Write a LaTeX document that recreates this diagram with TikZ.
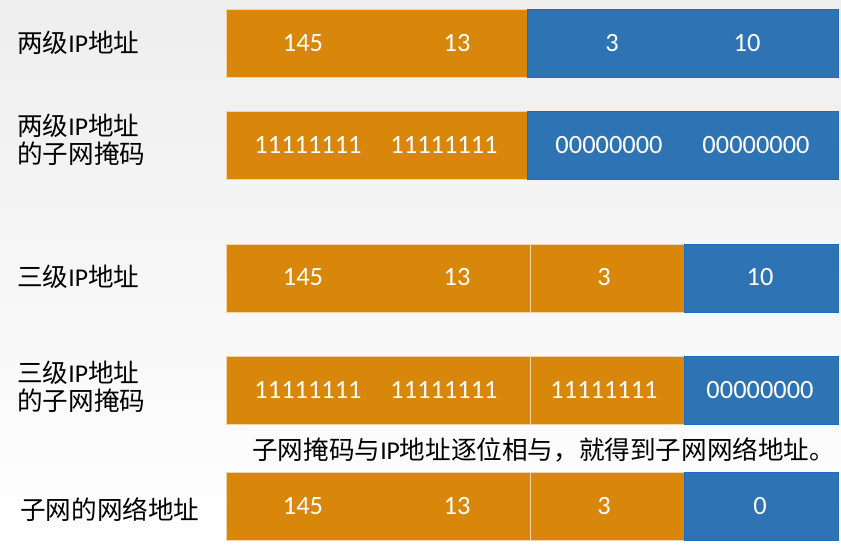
\documentclass[tikz,border=0pt]{standalone}
\usepackage{fontspec}
\setmainfont{Carlito}
\newfontfamily\cjk{Noto Sans CJK SC}
\definecolor{bytebg}{HTML}{D8870A}
\definecolor{hostbg}{HTML}{2E74B5}
\definecolor{hostline}{HTML}{1A6CC4}
\definecolor{pagetop}{HTML}{EEEEEE}
\tikzset{
  cell/.style={anchor=north west,minimum height=51pt,inner sep=0pt,line width=0.6pt},
  netbox/.style={cell,fill=bytebg,draw=bytebg!35!white},
  hostbox/.style={cell,fill=hostbg,draw=hostline},
  num/.style={text=white,font=\fontsize{19.8}{22}\selectfont,inner sep=0pt},
  lab/.style={anchor=west,align=left,inner sep=0pt,font=\fontsize{19.2}{21}\selectfont\cjk},
}
\begin{document}
\begin{tikzpicture}[x=0.75pt,y=-0.75pt]
\shade[top color=pagetop,bottom color=white] (0,0) rectangle (841,544);
\useasboundingbox (0,0) rectangle (841,544);
% two-level address
\node[netbox,minimum width=225.75pt] (a1) at (226,9) {};
\node[hostbox,minimum width=233.25pt] (b1) at (527,9) {};
\node[num] (n11) at (303,43) {145};
\node[num] (n12) at (457,43) {13};
\node[num] (n13) at (612,43) {3};
\node[num] (n14) at (747,43) {10};
\node[lab] (l1) at (17,43) {两级{\rmfamily IP}地址};
% its mask
\node[netbox,minimum width=225.75pt] (a2) at (226,111) {};
\node[hostbox,minimum width=233.25pt] (b2) at (527,111) {};
\node[num] (n21) at (308,145) {11111111};
\node[num] (n22) at (444,145) {11111111};
\node[num] (n23) at (609,145) {00000000};
\node[num] (n24) at (756,145) {00000000};
\node[lab] (l2) at (17,140) {两级{\rmfamily IP}地址\\的子网掩码};
% three-level address
\node[netbox,minimum width=228pt] (a3) at (226,244) {};
\node[netbox,minimum width=115.5pt] (c3) at (530,244) {};
\node[hostbox,minimum width=115.5pt] (b3) at (684,244) {};
\node[num] (n31) at (303,277) {145};
\node[num] (n32) at (457,277) {13};
\node[num] (n33) at (604,277) {3};
\node[num] (n34) at (760,277) {10};
\node[lab] (l3) at (17,277) {三级{\rmfamily IP}地址};
% its mask
\node[netbox,minimum width=228pt] (a4) at (226,356) {};
\node[netbox,minimum width=115.5pt] (c4) at (530,356) {};
\node[hostbox,minimum width=115.5pt] (b4) at (684,356) {};
\node[num] (n41) at (308,390) {11111111};
\node[num] (n42) at (444,390) {11111111};
\node[num] (n43) at (604,390) {11111111};
\node[num] (n44) at (760,390) {00000000};
\node[lab] (l4) at (17,387) {三级{\rmfamily IP}地址\\的子网掩码};
\node[lab] (note) at (252,450) {子网掩码与{\rmfamily IP}地址逐位相与，就得到子网网络地址。};
% subnet address
\node[netbox,minimum width=228pt] (a5) at (226,472) {};
\node[netbox,minimum width=115.5pt] (c5) at (530,472) {};
\node[hostbox,minimum width=115.5pt] (b5) at (684,472) {};
\node[num] (n51) at (303,506) {145};
\node[num] (n52) at (457,506) {13};
\node[num] (n53) at (604,506) {3};
\node[num] (n54) at (760,506) {0};
\node[lab] (l5) at (20,510) {子网的网络地址};
\end{tikzpicture}
\end{document}
